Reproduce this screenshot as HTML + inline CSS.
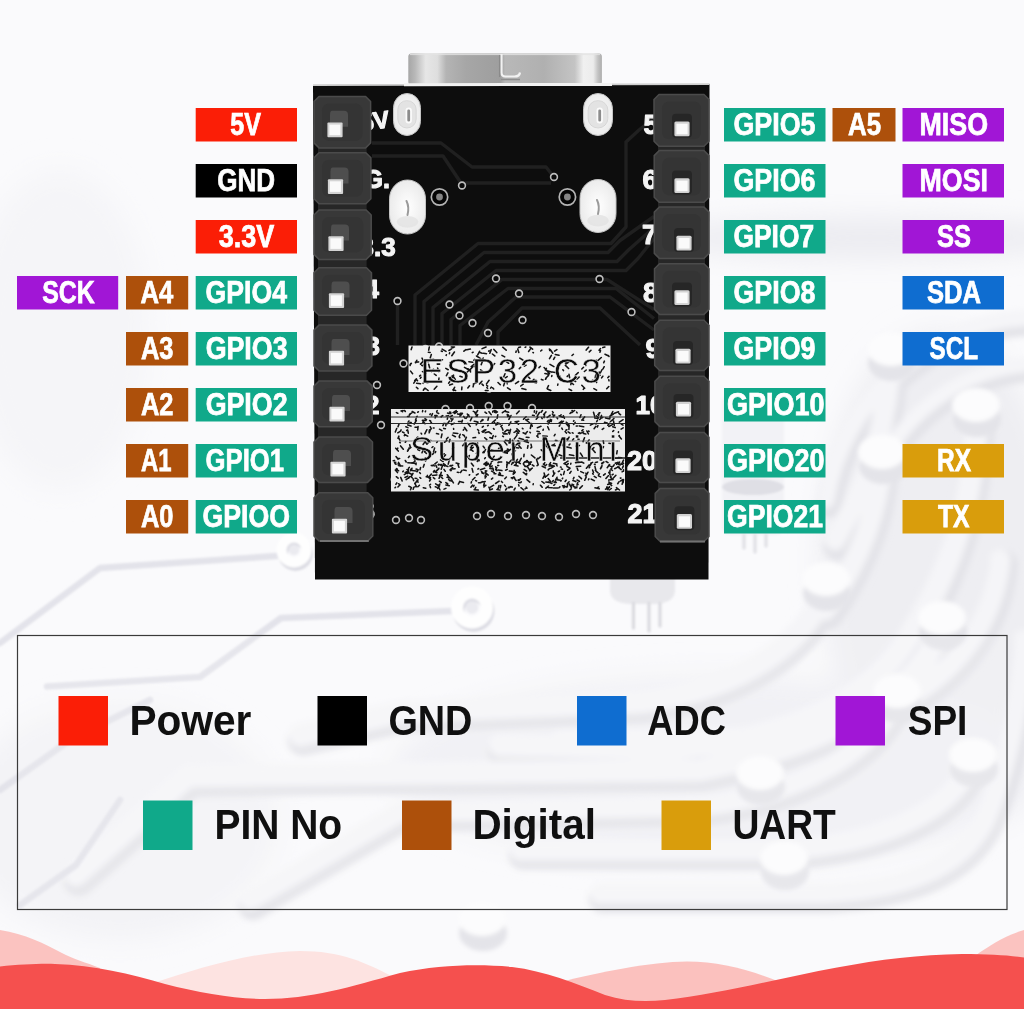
<!DOCTYPE html>
<html lang="en"><head><meta charset="utf-8"><title>ESP32-C3 Super Mini pinout</title>
<style>
html,body{margin:0;padding:0;background:#fafafc;}
body{width:1024px;height:1009px;overflow:hidden;font-family:"Liberation Sans",sans-serif;}
svg{display:block;}
text{font-family:"Liberation Sans",sans-serif;}
.lb{font-weight:700;font-size:31.2px;fill:#ffffff;stroke:#ffffff;stroke-width:0.75px;}
.lg{font-weight:700;font-size:41.6px;fill:#101010;}
.silk{font-weight:700;fill:#f4f4f4;stroke:#f4f4f4;stroke-width:1.1px;stroke-linejoin:round;}
.plate{font-weight:400;fill:#0c0c0c;stroke:#eeeeee;stroke-width:0.45px;}
</style></head><body>
<svg width="1024" height="1009" viewBox="0 0 1024 1009">
<defs>
<linearGradient id="bgv" x1="0" y1="0" x2="0" y2="1"><stop offset="0" stop-color="#fcfcfd"/><stop offset="0.5" stop-color="#f7f7f9"/><stop offset="1" stop-color="#f3f3f6"/></linearGradient>
<linearGradient id="usb" x1="0" y1="0" x2="1" y2="0"><stop offset="0" stop-color="#a6a6a6"/><stop offset="0.035" stop-color="#b8b8b8"/><stop offset="0.09" stop-color="#e6e6e6"/><stop offset="0.15" stop-color="#dedede"/><stop offset="0.195" stop-color="#b4b4b4"/><stop offset="0.30" stop-color="#a6a6a6"/><stop offset="0.475" stop-color="#9e9e9e"/><stop offset="0.50" stop-color="#b8b8b8"/><stop offset="0.70" stop-color="#b0b0b0"/><stop offset="0.86" stop-color="#c4c4c4"/><stop offset="0.905" stop-color="#f0f0f0"/><stop offset="0.955" stop-color="#ececec"/><stop offset="0.98" stop-color="#c2c2c2"/><stop offset="1" stop-color="#adadad"/></linearGradient>
<radialGradient id="pad" cx="0.5" cy="0.5" r="0.7"><stop offset="0" stop-color="#ffffff"/><stop offset="0.7" stop-color="#ececec"/><stop offset="1" stop-color="#cfcfcf"/></radialGradient>
<filter id="blur1" x="-10%" y="-10%" width="120%" height="120%"><feGaussianBlur stdDeviation="0.9"/></filter>
<filter id="blur2" x="-10%" y="-10%" width="120%" height="120%"><feGaussianBlur stdDeviation="2.0"/></filter>
<filter id="blur3" x="-10%" y="-10%" width="120%" height="120%"><feGaussianBlur stdDeviation="3.4"/></filter>
<filter id="blur12" x="-10%" y="-10%" width="120%" height="120%"><feGaussianBlur stdDeviation="14"/></filter>
</defs>
<rect width="1024" height="1009" fill="#fafafc"/>
<g filter="url(#blur12)">
<ellipse cx="870" cy="238" rx="210" ry="20" fill="#ebebf0"/>
<ellipse cx="940" cy="560" rx="120" ry="230" fill="#eeeef2"/>
<ellipse cx="720" cy="770" rx="330" ry="95" fill="#f0f0f4"/>
<ellipse cx="120" cy="820" rx="160" ry="120" fill="#f3f3f6"/>
<ellipse cx="60" cy="330" rx="90" ry="160" fill="#f5f5f8"/>
</g>
<g fill="none" stroke-linecap="round" stroke-linejoin="round" filter="url(#blur3)">
<path d="M891 349 C 889 420 870 480 835 540" stroke="#e3e3e8" stroke-width="30" transform="translate(3,5)"/>
<path d="M976 405 C 976 500 950 580 900 650 C 850 715 760 745 660 748 L 500 745" stroke="#e3e3e8" stroke-width="32" transform="translate(3,5)"/>
<path d="M882 452 C 880 510 860 560 825 610" stroke="#e3e3e8" stroke-width="30" transform="translate(3,5)"/>
<path d="M826 581 C 815 640 740 690 640 702 L 400 712 L 300 735" stroke="#e3e3e8" stroke-width="32" transform="translate(3,5)"/>
<path d="M942 618 C 930 690 830 745 700 770 L 520 772 L 188 776 L 76 875" stroke="#e3e3e8" stroke-width="32" transform="translate(3,5)"/>
<path d="M1000 560 C 990 660 900 730 760 738 L 560 740" stroke="#e3e3e8" stroke-width="30" transform="translate(3,5)"/>
<path d="M897 691 C 880 750 800 795 700 806 L 400 812 L 250 900" stroke="#e3e3e8" stroke-width="30" transform="translate(3,5)"/>
<path d="M973 755 C 960 810 880 845 780 850 L 520 850" stroke="#e3e3e8" stroke-width="30" transform="translate(3,5)"/>
<path d="M1024 640 C 1020 700 1010 760 985 820 C 960 870 900 890 820 893 L 600 893" stroke="#e3e3e8" stroke-width="30" transform="translate(3,5)"/>
<path d="M1024 318 C 930 322 842 400 826 500" stroke="#e3e3e8" stroke-width="26" transform="translate(3,5)"/>
<path d="M1024 365 C 950 372 880 430 866 510" stroke="#e3e3e8" stroke-width="24" transform="translate(3,5)"/>
<path d="M891 349 C 889 420 870 480 835 540" stroke="#f5f5f8" stroke-width="21"/>
<path d="M976 405 C 976 500 950 580 900 650 C 850 715 760 745 660 748 L 500 745" stroke="#f5f5f8" stroke-width="23"/>
<path d="M882 452 C 880 510 860 560 825 610" stroke="#f5f5f8" stroke-width="21"/>
<path d="M826 581 C 815 640 740 690 640 702 L 400 712 L 300 735" stroke="#f5f5f8" stroke-width="23"/>
<path d="M942 618 C 930 690 830 745 700 770 L 520 772 L 188 776 L 76 875" stroke="#f5f5f8" stroke-width="23"/>
<path d="M1000 560 C 990 660 900 730 760 738 L 560 740" stroke="#f5f5f8" stroke-width="21"/>
<path d="M897 691 C 880 750 800 795 700 806 L 400 812 L 250 900" stroke="#f5f5f8" stroke-width="21"/>
<path d="M973 755 C 960 810 880 845 780 850 L 520 850" stroke="#f5f5f8" stroke-width="21"/>
<path d="M1024 640 C 1020 700 1010 760 985 820 C 960 870 900 890 820 893 L 600 893" stroke="#f5f5f8" stroke-width="21"/>
<path d="M1024 318 C 930 322 842 400 826 500" stroke="#f5f5f8" stroke-width="17"/>
<path d="M1024 365 C 950 372 880 430 866 510" stroke="#f5f5f8" stroke-width="15"/>
</g>
<g filter="url(#blur2)">
<ellipse cx="892" cy="363" rx="24" ry="18" fill="#e4e4e9"/>
<ellipse cx="891" cy="349" rx="24" ry="17" fill="#fcfcfd"/>
<ellipse cx="977" cy="419" rx="24" ry="18" fill="#e4e4e9"/>
<ellipse cx="976" cy="405" rx="24" ry="17" fill="#fcfcfd"/>
<ellipse cx="883" cy="466" rx="24" ry="18" fill="#e4e4e9"/>
<ellipse cx="882" cy="452" rx="24" ry="17" fill="#fcfcfd"/>
<ellipse cx="827" cy="593" rx="24" ry="18" fill="#e4e4e9"/>
<ellipse cx="826" cy="579" rx="24" ry="17" fill="#fcfcfd"/>
<ellipse cx="943" cy="632" rx="24" ry="18" fill="#e4e4e9"/>
<ellipse cx="942" cy="618" rx="24" ry="17" fill="#fcfcfd"/>
<ellipse cx="898" cy="705" rx="24" ry="18" fill="#e4e4e9"/>
<ellipse cx="897" cy="691" rx="24" ry="17" fill="#fcfcfd"/>
<ellipse cx="761" cy="787" rx="24" ry="18" fill="#e4e4e9"/>
<ellipse cx="760" cy="773" rx="24" ry="17" fill="#fcfcfd"/>
<ellipse cx="974" cy="769" rx="24" ry="18" fill="#e4e4e9"/>
<ellipse cx="973" cy="755" rx="24" ry="17" fill="#fcfcfd"/>
<ellipse cx="785" cy="872" rx="24" ry="18" fill="#e4e4e9"/>
<ellipse cx="784" cy="858" rx="24" ry="17" fill="#fcfcfd"/>
<ellipse cx="483" cy="933" rx="24" ry="18" fill="#e4e4e9"/>
<ellipse cx="482" cy="919" rx="24" ry="17" fill="#fcfcfd"/>
</g>
<g fill="none" stroke-linecap="round" stroke-linejoin="round" filter="url(#blur1)">
<path d="M0 643 L100 568 L276 556" stroke="#e3e3ea" stroke-width="6.5"/>
<path d="M47 686.5 L200 677 L281 618 L452 611" stroke="#e3e3ea" stroke-width="6.5"/>
<path d="M0 790 L70 740 L150 700" stroke="#e3e3ea" stroke-width="6.5"/>
<path d="M20 905 L76 865 L120 800" stroke="#e3e3ea" stroke-width="6.5"/>
<circle cx="295.5" cy="553.5" r="12.5" stroke="#dddde4" stroke-width="10.0"/>
<circle cx="294" cy="550" r="12.5" stroke="#fefefe" stroke-width="10.0"/>
<circle cx="294" cy="550" r="5.2" fill="#ebebf0" stroke="none"/>
<circle cx="473.5" cy="611.0" r="15" stroke="#dddde4" stroke-width="12.0"/>
<circle cx="472" cy="607.5" r="15" stroke="#fefefe" stroke-width="12.0"/>
<circle cx="472" cy="607.5" r="6.3" fill="#ebebf0" stroke="none"/>
</g>
<g filter="url(#blur1)">
<path d="M610 578 H675 V590 Q675 603 655 604 H630 Q610 603 610 590 Z" fill="#e8e8ec"/>
<path d="M633.5 603 V628 M649 603 V631 M660 603 V626" stroke="#dadadf" stroke-width="3.2" stroke-linecap="round"/>
<rect x="722" y="395" width="62" height="140" rx="8" fill="#f0f0f4" opacity="0.8"/>
<ellipse cx="753" cy="487" rx="31" ry="8" fill="#dddde3" opacity="0.9"/>
<path d="M744 535 V548 M755 535 V552 M766 535 V546" stroke="#e0e0e5" stroke-width="3.2" stroke-linecap="round"/>
</g>
<rect x="408.3" y="53.3" width="193.6" height="32" rx="3.5" fill="url(#usb)"/>
<rect x="410" y="53.3" width="190" height="1.8" fill="#e4e4e4" opacity="0.8"/>
<path d="M501.5 54 V72.5 q0 4 4 4 h9 q5 0 5.5 -4" fill="none" stroke="#f2f2f2" stroke-width="2.2"/>
<path d="M499.6 55 V77" stroke="#8a8a8a" stroke-width="1.3"/>
<path d="M501 79.5 H520" stroke="#8e8e8e" stroke-width="1.5"/>
<path d="M313 85 L709.5 84 L708.5 579.5 L315 579.5 Z" fill="#0d0d0d"/>
<path d="M313 85.2 L709.5 84.2" stroke="#cfcfcf" stroke-width="1.8"/>
<path d="M404 84.8 L612 84.4" stroke="#f1f1f1" stroke-width="3"/>
<g fill="none" stroke="#202020" stroke-width="3.4" stroke-linejoin="round">
<path d="M372 143 H441 L472 167 H546 L554 177"/>
<path d="M372 156 H443 L461 183 H551"/>
<path d="M654 118 L639 130 L626 142 V227 L611 243.5 H478 L415 295 V345"/>
<path d="M654 216.5 L620.0 240.5 L608.0 252.5 H484 L424 301.5 V345"/>
<path d="M654 227.5 L629.0 249.5 L617.0 261.5 H490 L433 307.5 V345"/>
<path d="M654 238.5 L638.0 258.5 L626.0 270.5 H496 L442 313.5 V345"/>
<path d="M654 309.5 L607.0 279.5 H502 L451 319.5 V345"/>
<path d="M654 318.5 L616.0 288.5 H508 L460 325.5 V345"/>
<path d="M654 330 L610 297 H516 L488 322 L476 345"/>
<path d="M640 345 L600 308 H522 L498 332 V345"/>
<path d="M397.5 301 V345"/>
</g>
<g class="silk">
<text x="360" y="128.5" font-size="24" transform="rotate(-8 380 120)">5V</text>
<text x="363.5" y="187.5" font-size="25">G.</text>
<text x="359.5" y="255.5" font-size="26">3.3</text>
<text x="365" y="297.5" font-size="25">4</text>
<text x="366" y="355" font-size="25">3</text>
<text x="365.5" y="414" font-size="25">2</text>
<text x="363.5" y="518.5" font-size="20">5</text>
<text x="658.5" y="133.5" font-size="27" text-anchor="end">5</text>
<text x="657.5" y="188.5" font-size="27" text-anchor="end">6</text>
<text x="657" y="244" font-size="27" text-anchor="end">7</text>
<text x="658.5" y="302" font-size="28" text-anchor="end">8</text>
<text x="660.5" y="358" font-size="27" text-anchor="end">9</text>
<text x="664.5" y="414" font-size="26" text-anchor="end">10</text>
<text x="657" y="469.5" font-size="27" text-anchor="end">20</text>
<text x="657.5" y="522.5" font-size="27" text-anchor="end">21</text>
</g>
<rect x="393.5" y="93.5" width="27.0" height="42" rx="13.5" ry="14.175" fill="url(#pad)" stroke="#c4c4c4" stroke-width="1"/>
<rect x="397.82" y="100.64" width="18.360000000000003" height="27.3" rx="8.91" fill="#e3e3e3" stroke="#d2d2d2" stroke-width="0.8"/>
<rect x="406.4" y="108.5" width="4.6" height="14" rx="2.3" fill="#8c8c8c" stroke="#fbfbfb" stroke-width="1.8"/>
<rect x="583.5" y="93.5" width="29.0" height="42" rx="14.5" ry="15.225000000000001" fill="url(#pad)" stroke="#c4c4c4" stroke-width="1"/>
<rect x="588.14" y="100.64" width="19.720000000000002" height="27.3" rx="9.57" fill="#e3e3e3" stroke="#d2d2d2" stroke-width="0.8"/>
<rect x="597.4" y="108.5" width="4.6" height="14" rx="2.3" fill="#8c8c8c" stroke="#fbfbfb" stroke-width="1.8"/>
<rect x="389.5" y="180" width="36" height="54" rx="18" ry="18.900000000000002" fill="url(#pad)" stroke="#c4c4c4" stroke-width="1"/>
<ellipse cx="407.5" cy="221.85" rx="10.799999999999999" ry="5.94" fill="#e2e2e2" opacity="0.8"/>
<path d="M406.5 201 q3 6 1 14" stroke="#9a9a9a" stroke-width="2" fill="none" stroke-linecap="round"/>
<rect x="580" y="179.5" width="36" height="53.0" rx="18" ry="18.900000000000002" fill="url(#pad)" stroke="#c4c4c4" stroke-width="1"/>
<ellipse cx="598" cy="220.575" rx="10.799999999999999" ry="5.83" fill="#e2e2e2" opacity="0.8"/>
<path d="M597 200 q3 6 1 14" stroke="#9a9a9a" stroke-width="2" fill="none" stroke-linecap="round"/>
<circle cx="439.5" cy="197" r="8.2" fill="#050505" stroke="#b4b4b4" stroke-width="1.7"/>
<circle cx="439.5" cy="197" r="3.4" fill="#858585"/>
<circle cx="567.4" cy="197" r="8.2" fill="#050505" stroke="#b4b4b4" stroke-width="1.7"/>
<circle cx="567.4" cy="197" r="3.4" fill="#858585"/>
<circle cx="462" cy="185.5" r="3.4" fill="#0a0a0a" stroke="#bdbdbd" stroke-width="1.6"/>
<circle cx="554" cy="177" r="3.4" fill="#0a0a0a" stroke="#bdbdbd" stroke-width="1.6"/>
<circle cx="397.5" cy="301" r="3.4" fill="#0a0a0a" stroke="#bdbdbd" stroke-width="1.6"/>
<circle cx="496" cy="278.5" r="3.4" fill="#0a0a0a" stroke="#bdbdbd" stroke-width="1.6"/>
<circle cx="599.5" cy="279" r="3.4" fill="#0a0a0a" stroke="#bdbdbd" stroke-width="1.6"/>
<circle cx="519" cy="293.5" r="3.4" fill="#0a0a0a" stroke="#bdbdbd" stroke-width="1.6"/>
<circle cx="449.5" cy="304.5" r="3.4" fill="#0a0a0a" stroke="#bdbdbd" stroke-width="1.6"/>
<circle cx="459.5" cy="315.5" r="3.4" fill="#0a0a0a" stroke="#bdbdbd" stroke-width="1.6"/>
<circle cx="472.5" cy="323" r="3.4" fill="#0a0a0a" stroke="#bdbdbd" stroke-width="1.6"/>
<circle cx="522.5" cy="320" r="3.4" fill="#0a0a0a" stroke="#bdbdbd" stroke-width="1.6"/>
<circle cx="631.5" cy="312" r="3.4" fill="#0a0a0a" stroke="#bdbdbd" stroke-width="1.6"/>
<circle cx="488" cy="333" r="3.4" fill="#0a0a0a" stroke="#bdbdbd" stroke-width="1.6"/>
<circle cx="403.5" cy="363.5" r="3.4" fill="#0a0a0a" stroke="#bdbdbd" stroke-width="1.6"/>
<circle cx="377" cy="385" r="3.4" fill="#0a0a0a" stroke="#bdbdbd" stroke-width="1.6"/>
<circle cx="381" cy="425" r="3.4" fill="#0a0a0a" stroke="#bdbdbd" stroke-width="1.6"/>
<circle cx="425.5" cy="349" r="3.4" fill="#0a0a0a" stroke="#bdbdbd" stroke-width="1.6"/>
<circle cx="439" cy="346.5" r="3.4" fill="#0a0a0a" stroke="#bdbdbd" stroke-width="1.6"/>
<circle cx="417.5" cy="375" r="3.4" fill="#0a0a0a" stroke="#bdbdbd" stroke-width="1.6"/>
<circle cx="489" cy="388.5" r="3.4" fill="#0a0a0a" stroke="#bdbdbd" stroke-width="1.6"/>
<circle cx="445.5" cy="409" r="3.4" fill="#0a0a0a" stroke="#bdbdbd" stroke-width="1.6"/>
<circle cx="470" cy="408" r="3.4" fill="#0a0a0a" stroke="#bdbdbd" stroke-width="1.6"/>
<circle cx="488.7" cy="406" r="3.4" fill="#0a0a0a" stroke="#bdbdbd" stroke-width="1.6"/>
<circle cx="507.5" cy="406" r="3.4" fill="#0a0a0a" stroke="#bdbdbd" stroke-width="1.6"/>
<circle cx="532" cy="408" r="3.4" fill="#0a0a0a" stroke="#bdbdbd" stroke-width="1.6"/>
<circle cx="394.7" cy="479.5" r="3.4" fill="#0a0a0a" stroke="#bdbdbd" stroke-width="1.6"/>
<circle cx="448.6" cy="482.5" r="3.4" fill="#0a0a0a" stroke="#bdbdbd" stroke-width="1.6"/>
<circle cx="541" cy="473.6" r="3.4" fill="#0a0a0a" stroke="#bdbdbd" stroke-width="1.6"/>
<circle cx="396" cy="520" r="3.4" fill="#0a0a0a" stroke="#bdbdbd" stroke-width="1.6"/>
<circle cx="409" cy="518" r="3.4" fill="#0a0a0a" stroke="#bdbdbd" stroke-width="1.6"/>
<circle cx="421" cy="520" r="3.4" fill="#0a0a0a" stroke="#bdbdbd" stroke-width="1.6"/>
<circle cx="477" cy="516" r="3.4" fill="#0a0a0a" stroke="#bdbdbd" stroke-width="1.6"/>
<circle cx="491" cy="514" r="3.4" fill="#0a0a0a" stroke="#bdbdbd" stroke-width="1.6"/>
<circle cx="508" cy="516" r="3.4" fill="#0a0a0a" stroke="#bdbdbd" stroke-width="1.6"/>
<circle cx="526" cy="515" r="3.4" fill="#0a0a0a" stroke="#bdbdbd" stroke-width="1.6"/>
<circle cx="542" cy="516" r="3.4" fill="#0a0a0a" stroke="#bdbdbd" stroke-width="1.6"/>
<circle cx="559" cy="517" r="3.4" fill="#0a0a0a" stroke="#bdbdbd" stroke-width="1.6"/>
<circle cx="576" cy="514" r="3.4" fill="#0a0a0a" stroke="#bdbdbd" stroke-width="1.6"/>
<circle cx="593" cy="515" r="3.4" fill="#0a0a0a" stroke="#bdbdbd" stroke-width="1.6"/>
<rect x="408.5" y="345.5" width="202" height="46.5" fill="#f1f1f1"/>
<rect x="391" y="409" width="234" height="82.5" fill="#ececec"/>
<path d="M534.0 379.3L531.4 382.0M515.5 383.6L518.6 381.5M589.3 351.9L591.0 350.2M430.3 357.8L431.3 354.5M592.4 380.3L593.5 380.7M532.9 352.5L533.4 352.7M452.9 389.7L455.6 390.5M449.6 385.1L452.5 384.1M547.4 389.0L550.8 390.5M492.6 387.7L493.7 388.9M530.0 347.1L532.6 349.2M480.7 360.3L483.3 358.1M550.2 349.5L552.8 353.2M481.2 364.6L482.2 362.0M525.1 347.4L525.8 347.0M599.9 352.2L600.5 350.7M480.6 369.8L483.5 372.1M565.4 363.0L566.7 361.8M428.1 361.8L430.2 359.6M593.9 370.7L595.1 372.1M569.0 374.3L569.6 377.7M442.1 349.1L446.0 351.4M416.3 379.2L417.5 380.8M493.9 349.4L496.8 352.6M476.5 356.0L480.3 358.4M535.4 381.3L535.8 380.3M421.7 365.3L422.7 365.8M604.2 366.7L603.0 369.0M464.5 367.4L468.2 369.5M606.7 388.8L608.8 386.5M445.8 368.4L448.2 369.7M481.9 381.2L479.5 384.0M416.8 360.3L415.6 362.8M506.7 380.5L507.3 383.8M477.7 354.8L479.6 351.3M459.9 376.2L462.2 377.0M568.7 362.1L566.1 363.9M491.3 387.1L490.6 388.2M482.5 361.5L483.2 360.6M482.0 384.1L483.3 385.4M555.3 354.5L559.0 355.3M596.3 360.2L595.1 362.7M608.2 355.5L609.0 356.4M453.6 376.8L455.3 379.4M605.0 354.2L608.7 356.0M446.1 355.4L446.4 354.7M541.8 350.1L540.7 351.0M410.1 364.6L411.3 363.4M547.1 370.8L551.4 372.1M428.9 370.7L430.8 370.8M480.0 352.6L482.1 353.3M483.5 353.2L486.5 353.7M449.6 352.8L449.4 353.7M431.5 371.6L433.5 369.3M584.4 371.5L586.2 370.0M505.4 377.8L507.2 376.6M461.7 389.7L461.9 387.1M598.1 360.4L601.3 357.5M434.3 374.0L436.2 375.4M437.2 364.1L439.7 364.1M596.1 381.0L596.6 382.5M553.6 359.4L554.8 357.2M581.8 385.3L584.7 388.3M469.8 370.2L470.6 372.0M415.3 362.2L418.6 361.9M410.6 371.1L412.6 373.7M518.6 347.6L520.5 347.0M547.1 388.5L548.5 385.6M545.8 378.3L548.6 375.2M423.1 383.4L424.9 380.5M539.0 367.6L540.4 366.3M519.3 368.6L520.7 367.3M517.7 349.1L518.8 352.5M567.6 375.9L567.2 376.5M423.7 364.6L425.3 366.6M453.6 375.1L450.1 377.7M607.8 377.7L609.0 376.4M492.4 354.0L494.8 355.9M541.4 379.4L543.0 379.9M557.7 385.2L557.9 384.1M546.4 368.3L545.4 370.0M421.1 377.3L420.3 378.2M467.8 388.0L469.5 385.8M519.8 358.1L522.8 360.0M570.8 384.6L571.3 382.2M551.9 375.5L551.7 376.4M581.8 369.0L583.5 367.3M505.6 361.1L508.7 363.3M486.5 383.9L489.1 380.3M454.4 352.0L451.8 355.7M452.1 377.5L453.4 375.9M595.2 377.7L595.9 374.0M575.4 375.2L578.2 372.6M482.1 348.6L486.1 347.0M488.7 351.2L489.1 350.6M507.5 387.8L510.2 389.6M503.6 385.7L504.6 382.8M501.9 355.3L504.7 356.9M486.7 385.3L487.7 386.1M572.9 379.6L575.6 381.5M416.4 387.2L417.9 388.6M544.1 367.5L547.1 370.7M474.5 366.7L475.3 365.4M552.2 372.0L555.4 372.4M603.7 362.8L604.4 361.1M423.3 390.2L424.7 388.2M451.5 348.9L449.0 350.5M411.2 349.6L412.0 347.0M416.6 383.3L420.6 383.7M428.7 350.1L429.3 347.0M503.8 376.7L505.0 373.8M422.0 358.1L423.0 360.1M584.1 388.3L583.3 389.4M490.1 370.1L490.4 371.0M427.3 389.9L428.1 390.5M452.7 347.8L453.8 347.0M562.9 369.7L563.5 370.6M471.2 366.5L474.3 364.1M437.6 368.0L438.8 371.6M472.3 352.6L473.1 352.2M569.0 389.1L571.6 390.5M549.4 349.1L549.8 350.4M586.2 350.1L588.5 347.2M520.7 386.0L523.2 384.1M498.0 382.5L500.3 384.8M549.5 358.6L551.4 355.3M473.9 360.3L474.6 359.4M466.8 349.8L470.4 349.1M434.2 389.2L436.9 386.3M598.9 373.6L599.2 372.1M450.0 362.6L451.2 363.1M554.6 351.1L556.9 349.6M438.7 380.3L439.0 378.0M473.1 386.8L473.6 384.4M419.6 376.1L420.6 375.2M528.6 351.5L530.8 348.4M451.3 347.0L454.5 347.0M585.5 364.1L585.9 365.5M470.3 369.4L472.9 366.8M571.0 382.4L573.5 384.5M489.8 353.2L491.2 349.6M428.7 364.3L429.6 367.8M449.7 381.7L448.6 383.2M516.2 351.0L515.9 352.3M511.8 372.5L512.0 371.2M544.9 373.5L547.5 374.0M550.0 364.4L553.9 366.7M547.9 376.2L548.8 373.6M528.1 376.6L529.9 378.5M415.4 380.7L413.8 383.2M602.8 347.6L604.9 347.0M559.9 376.1L561.7 380.2M576.8 379.1L579.1 377.1M428.3 352.3L430.2 352.5M602.8 376.2L601.6 377.9M451.2 376.5L452.7 377.7M547.1 371.1L549.5 373.6M429.9 359.8L433.7 359.3M599.1 350.3L600.5 348.5M422.5 371.6L426.1 373.1M493.0 365.5L494.7 363.5M465.9 373.3L469.1 370.2M439.7 359.9L442.5 359.7M447.9 372.9L446.4 375.7M425.2 388.4L426.1 389.0M473.4 384.0L476.3 382.8M532.4 381.7L536.2 383.1M441.2 351.0L442.3 351.5M524.4 366.2L526.1 365.2M593.9 388.6L596.6 390.1M572.0 355.5L573.4 354.2M545.4 379.3L546.1 378.7M502.7 347.2L506.2 350.2M410.7 363.6L410.1 365.5M561.2 378.4L562.4 379.7M608.8 379.7L609.0 380.8M467.8 368.7L470.5 370.8M468.9 361.7L472.8 362.2M453.8 389.9L453.4 390.5M463.9 351.2L465.9 349.6M486.9 387.6L487.6 388.3M426.6 382.6L427.8 382.8M521.9 388.6L525.9 389.6M453.5 389.4L454.6 387.3M600.3 373.0L602.1 369.5M420.5 364.1L423.1 361.4M597.0 375.8L600.1 375.2M414.7 380.5L416.4 378.9M485.3 390.5L488.1 390.5M565.4 365.4L568.6 368.5" stroke="#141414" stroke-width="1.55" stroke-linecap="round" fill="none"/>
<path d="M467.3 414.0L469.4 416.5M414.2 424.2L416.3 420.5M492.7 412.1L492.8 411.2M523.1 432.8L525.8 434.0M525.8 419.8L529.4 422.5M423.3 420.3L426.0 420.5M581.0 414.7L579.9 417.5M415.0 427.2L417.9 427.1M549.7 420.5L551.3 421.5M476.0 416.3L476.7 415.2M461.9 422.1L462.4 420.3M618.9 413.3L620.6 414.8M505.5 411.4L508.6 412.3M594.7 417.9L598.1 418.5M576.6 412.1L577.1 412.9M545.9 411.9L543.7 414.5M549.9 421.0L548.2 424.0M609.8 418.9L610.1 415.8M570.0 413.5L571.1 412.4M507.2 414.4L507.8 416.5M581.8 430.8L583.1 429.7M550.2 419.4L551.6 419.9M446.1 416.0L448.6 415.8M457.6 413.9L460.3 414.6M612.7 426.7L615.2 427.6M563.4 421.2L560.3 423.9M483.1 419.9L482.6 420.7M436.5 433.6L438.6 434.0M404.6 410.5L405.3 411.5M534.3 412.2L534.5 410.7M450.8 418.7L452.7 419.3M505.2 433.5L507.2 434.0M416.1 418.6L415.5 420.1M397.8 432.8L400.2 431.4M603.7 428.3L602.2 429.4M553.3 416.6L554.7 415.1M444.0 423.2L442.9 425.6M580.0 433.6L583.6 431.9M563.4 415.8L564.4 418.3M621.1 429.1L623.2 427.8M613.5 421.0L614.3 425.3M476.7 415.7L477.7 414.6M504.0 433.7L506.5 434.0M543.3 429.3L543.0 430.2M482.3 427.2L483.3 426.3M539.4 412.5L537.1 416.3M485.2 432.7L488.6 431.7M398.9 424.4L398.0 426.7M583.4 433.5L585.8 434.0M519.2 411.0L516.6 413.8M514.1 432.4L516.3 431.4M441.3 416.4L442.8 415.6M467.8 423.3L470.2 426.4M474.2 421.3L477.1 421.7M604.5 422.3L607.2 422.9M594.1 428.7L595.9 426.3M501.9 427.5L503.0 430.1M515.1 421.8L518.8 421.3M436.7 411.5L437.2 410.6M568.1 431.9L570.0 433.2M532.5 415.2L534.2 415.6M502.9 432.6L503.7 434.0M598.7 415.3L599.1 412.9M494.6 412.2L496.1 412.8M462.4 413.4L459.9 416.1M477.1 416.4L477.4 415.3M612.5 419.9L610.5 421.5M429.8 420.6L431.4 422.8M474.9 412.7L475.9 414.4M494.2 410.9L496.2 411.0M614.4 413.2L618.5 411.8M416.7 416.7L417.2 416.2M422.4 420.4L425.0 423.8M516.5 422.6L518.5 424.2M405.8 426.7L407.9 427.6M396.4 412.6L397.8 413.3M407.9 430.8L408.3 433.2M489.0 432.0L491.5 433.8M447.6 413.1L448.8 413.5M607.8 425.3L609.6 423.2M508.0 414.7L509.1 416.3M401.0 410.9L403.1 410.5M449.3 421.0L447.5 423.7M506.8 430.1L509.0 430.2M442.2 415.9L441.2 416.9M424.8 433.8L426.9 429.7M537.0 431.2L539.2 431.8M586.8 431.0L588.4 433.9M552.5 411.6L553.3 412.7M453.3 433.1L457.8 433.4M400.5 431.2L401.1 429.9M480.7 421.7L482.3 419.6M571.8 412.6L574.6 410.5M402.1 411.0L403.1 410.5M613.7 430.6L612.8 431.4M530.3 428.5L531.0 425.0M559.8 425.6L559.2 426.1M537.4 427.7L541.0 426.3M566.4 423.9L568.9 426.8M527.4 431.5L525.2 433.9M412.2 411.5L414.9 413.0M496.8 411.7L497.4 411.9M505.5 410.6L502.4 412.7M599.9 412.7L597.9 414.5M450.8 412.2L449.5 413.4M445.8 425.8L446.1 423.4M602.8 417.3L602.3 417.8M410.4 414.0L409.3 415.1M536.0 413.6L536.7 411.2M547.7 426.8L549.0 429.8M458.5 421.4L462.1 421.3M618.4 432.5L618.5 431.8M509.5 433.9L510.6 429.4M610.9 415.5L613.5 414.0M453.0 418.9L451.2 421.4M597.4 427.0L597.9 425.6M429.2 432.8L430.3 429.7M425.0 418.6L426.5 419.6M565.9 430.2L566.9 429.7M600.8 417.3L601.5 415.4M593.5 412.3L594.7 416.4M457.3 411.7L454.6 413.5M450.1 416.7L452.4 415.5M573.9 420.6L573.5 421.2M594.8 423.5L596.2 423.9M561.7 421.1L558.8 423.3M504.7 431.9L506.8 430.1M471.9 417.5L470.4 420.7M544.0 417.6L544.5 414.8M541.1 412.3L542.4 410.5M497.1 418.3L497.8 414.7M436.9 412.6L438.7 413.5M477.6 429.5L478.6 430.5M487.9 420.2L488.6 417.6M566.2 422.2L568.5 424.1M508.8 425.3L510.9 421.8M599.7 419.5L602.0 417.4M588.5 431.0L589.1 431.4M568.9 429.4L569.2 424.9M482.9 432.3L485.9 429.7M449.9 413.1L450.9 413.7M417.7 429.9L418.1 426.5M572.0 410.5L572.9 411.1M541.6 417.6L542.2 418.6M493.5 428.5L494.1 429.3M527.1 419.6L528.6 419.3M516.7 433.9L517.4 434.0M596.7 421.7L597.4 420.3M487.6 425.8L488.3 425.2M548.3 420.4L547.4 421.7M478.0 422.1L476.2 424.9M550.2 415.2L547.2 417.5M408.1 422.1L408.9 421.0M443.7 428.4L445.4 428.7M435.8 415.7L435.2 417.9M529.9 432.2L530.4 432.8M425.3 411.7L425.6 411.0M557.0 417.9L557.6 418.7M468.6 414.9L466.1 418.4M464.5 427.5L466.8 430.8M417.7 412.3L418.4 411.7M421.1 433.2L421.6 434.0M463.8 429.4L463.3 430.2M478.6 432.1L479.1 433.4M502.1 425.3L500.9 426.4M401.9 411.3L402.7 411.7M565.1 431.6L566.4 433.1M612.8 411.5L611.2 414.7M456.2 410.6L453.1 412.6M407.6 429.9L406.7 430.5M612.9 419.6L613.9 418.4M423.2 422.2L422.9 422.7M552.4 414.1L553.3 415.3M573.6 424.5L575.2 422.4M449.6 412.0L450.3 412.2M429.6 420.5L430.6 420.9M411.9 412.8L409.7 414.2M432.5 413.6L431.5 415.9M516.9 428.7L519.4 431.4M523.5 419.3L526.1 416.8M435.4 416.0L437.1 415.9M407.5 416.4L409.1 416.4M579.3 425.9L583.7 426.8M596.4 415.9L598.4 417.3M460.3 413.3L461.7 413.2M409.9 422.5L411.2 422.6M572.2 432.7L573.1 433.1M473.3 411.4L475.1 412.1M451.4 424.6L454.3 423.2M581.7 420.1L583.7 420.2M439.5 429.2L441.9 430.6M576.3 426.1L577.5 426.0M430.3 426.8L431.3 428.9M489.0 411.7L491.2 414.6M396.7 428.5L395.3 432.0M560.7 415.3L561.1 414.9M582.0 420.0L584.6 416.9M422.5 411.7L422.7 410.6M536.2 419.2L538.0 417.3M429.9 414.5L430.3 413.8M578.4 433.2L579.7 432.6M402.5 432.0L404.1 432.9M482.1 431.7L484.7 430.0M590.4 425.1L593.1 423.8M434.8 415.6L437.0 415.5M475.5 414.0L477.6 410.5M522.4 428.3L523.0 428.8M531.0 423.4L532.3 426.2M463.7 416.4L464.9 418.1M493.8 411.0L495.1 410.5M495.7 425.0L499.2 423.3M485.0 412.1L486.6 413.3M494.6 422.5L494.3 423.2M605.5 417.9L608.9 418.7M508.9 419.4L511.0 415.5M407.8 424.9L411.0 426.1M619.3 422.1L623.1 419.7M559.1 415.7L562.7 417.2M429.2 431.6L429.5 429.9M508.5 432.1L509.2 433.4M447.3 419.2L447.6 417.9M608.8 426.5L612.5 424.6M453.6 428.6L453.7 429.3M497.2 422.8L500.2 424.1M516.2 430.6L518.7 433.2M621.3 424.1L623.0 425.1M433.3 428.0L434.1 428.0M540.2 433.6L537.8 434.0M561.8 428.1L562.5 429.4M492.3 422.5L495.5 419.8" stroke="#141414" stroke-width="1.55" stroke-linecap="round" fill="none"/>
<path d="M444.9 464.8L444.6 465.9M424.1 460.0L425.6 457.8M498.6 448.5L501.0 447.5M485.5 449.5L484.0 452.8M486.7 462.9L488.2 464.3M414.9 460.1L415.3 457.9M405.9 441.5L405.3 442.3M440.5 459.9L443.1 461.5M505.4 440.2L509.7 440.9M527.5 448.2L528.0 445.5M569.1 437.1L567.4 440.0M541.2 449.8L543.6 451.9M514.6 450.3L515.4 450.8M518.4 445.0L521.1 448.3M454.1 447.5L452.4 448.8M433.0 446.7L432.0 447.5M398.4 465.1L399.6 465.4M569.1 444.9L570.0 444.0M424.6 452.0L426.4 453.4M459.2 437.0L459.8 437.7M514.3 438.9L516.9 435.4M618.9 436.0L619.3 435.5M544.5 437.9L544.9 439.6M393.2 460.7L394.6 460.5M615.5 458.3L620.0 458.0M470.5 447.8L471.4 447.2M507.4 449.1L508.5 449.5M559.0 454.7L562.3 456.0M557.8 449.1L559.0 450.9M404.3 435.6L405.2 435.0M556.1 453.6L556.3 454.2M514.4 465.3L518.0 466.0M555.4 440.4L556.9 440.6M512.6 440.3L513.0 442.0M564.2 463.7L568.0 461.1M410.9 447.4L408.1 449.6M511.8 454.0L513.7 458.0M417.7 449.5L419.6 450.5M464.6 443.3L462.7 445.7M552.0 445.4L555.3 445.7M491.3 449.7L493.7 450.8M408.4 457.5L409.4 456.2M536.8 460.4L538.2 464.7M509.0 442.9L510.1 438.9M449.3 441.9L450.0 439.4M580.4 453.1L582.5 456.4M416.9 437.6L417.8 437.1M621.9 463.5L623.5 460.1M436.7 442.5L437.4 441.8M601.7 463.6L602.6 463.7M619.0 436.1L621.4 439.0M543.5 445.7L546.9 443.8M531.0 444.2L531.4 446.0M407.8 462.8L412.0 463.1M429.4 442.2L430.7 440.4M407.5 451.1L408.2 450.4M438.5 464.3L438.2 465.0M431.9 454.5L433.5 453.6M503.1 452.0L507.2 450.5M423.1 444.5L424.4 442.6M494.2 456.2L492.7 458.0M488.3 464.0L485.9 465.6M552.4 465.5L553.3 466.0M572.6 440.0L573.7 438.8M586.3 442.9L589.4 443.6M608.9 443.3L610.4 443.4M423.6 449.6L425.2 451.6M400.6 445.9L403.3 449.3M398.9 465.8L402.7 466.0M435.2 452.6L435.7 451.6M526.2 462.1L528.2 461.7M531.4 455.0L534.9 457.9M466.4 437.3L464.8 440.9M476.9 445.1L477.6 443.1M537.7 435.2L536.9 436.1M542.8 436.0L547.2 436.3M477.1 452.0L476.4 453.6M397.8 448.1L397.0 449.7M586.9 443.3L589.1 439.9M413.1 462.7L415.0 461.3M562.6 445.6L563.7 442.8M524.8 440.5L527.5 440.3M426.2 460.3L425.5 461.0M442.8 454.4L444.3 453.8M395.7 448.2L398.3 451.1M618.2 457.6L621.7 457.7M464.2 435.4L464.7 436.8M488.2 463.2L488.1 463.7M510.5 449.4L507.0 452.3M489.9 437.6L492.4 438.4M556.4 464.4L557.1 466.0M493.3 435.6L492.4 437.7M398.9 436.1L398.0 438.4M405.3 460.5L406.2 462.0M531.8 447.0L530.8 448.0M441.2 437.6L442.0 434.0M583.0 441.6L584.5 437.7M509.4 462.3L511.7 459.9M616.7 453.8L617.2 450.7M512.3 444.8L516.7 444.7M443.5 457.1L445.5 454.9M422.2 458.8L422.3 459.7M425.1 441.6L426.8 444.0M484.7 458.6L485.3 457.7M606.1 461.5L608.0 462.7M519.1 462.3L521.2 458.3M396.0 456.5L398.1 459.2M504.3 452.6L507.3 453.3M495.3 436.6L495.8 436.2M409.7 444.7L410.2 446.8M532.3 464.9L533.9 466.0M616.6 464.4L617.9 462.2M449.4 459.8L448.2 464.1M569.4 454.8L573.7 455.6M577.9 439.1L579.0 439.3M553.5 463.3L556.9 464.1M484.7 437.7L486.8 439.6M575.5 462.7L577.5 462.4M484.9 464.6L485.6 464.0M557.5 456.0L555.5 457.3M502.7 436.1L503.4 436.6M483.7 451.5L482.9 452.6M523.8 456.6L524.1 454.3M473.0 437.8L475.6 437.4M414.3 457.3L415.9 457.8M593.9 447.6L592.1 449.1M398.9 438.0L399.9 440.2M603.1 447.6L603.5 446.6M548.7 447.4L549.5 448.1M446.9 440.4L444.5 442.3M603.2 440.8L603.7 443.4M476.8 459.6L479.2 460.7M488.8 457.2L489.6 456.4M529.2 462.9L530.5 462.0M506.7 462.0L509.1 463.4M459.3 436.4L460.2 434.2M504.3 441.5L506.9 444.9M526.2 437.3L529.0 437.5M555.1 434.4L554.2 435.8M542.8 439.6L543.4 439.1M404.6 434.5L407.7 436.1M450.2 465.5L451.5 466.0M545.6 445.5L544.8 446.0M510.1 443.0L510.4 439.9M397.8 458.4L399.7 458.5M618.3 463.9L622.4 464.3M514.4 461.5L513.2 462.9M462.7 434.7L464.1 435.6M536.5 459.7L537.7 458.3M518.0 440.6L518.8 441.4M568.4 438.2L566.9 439.1M452.7 465.2L449.9 466.0M423.8 448.6L422.0 452.8M513.2 455.6L514.3 459.2M515.3 464.7L517.5 466.0M471.6 450.2L473.0 451.2M552.8 465.4L549.2 466.0M526.8 440.4L527.4 440.6M537.1 435.6L538.1 437.3M538.3 458.8L540.4 456.9M566.9 447.0L571.1 448.1M592.9 449.7L595.2 452.5M514.9 447.6L518.8 448.0M546.6 464.5L545.1 466.0M446.5 439.1L448.0 437.4M470.3 450.0L473.3 447.2M516.4 461.0L517.4 459.4M590.8 463.2L592.6 462.4M429.5 441.4L426.9 444.2M524.3 441.3L528.4 442.6M452.5 435.1L455.4 436.7M415.4 456.9L414.5 459.5M526.6 460.6L529.1 462.7M472.6 445.2L471.3 446.2M524.6 462.1L527.4 460.6M394.5 462.3L396.0 464.3M545.9 445.5L548.1 448.0M519.2 438.3L523.5 439.4M468.7 457.6L469.3 455.5M463.7 444.4L465.4 444.7M491.3 462.0L493.8 460.0M576.2 460.8L578.6 461.5M434.6 448.1L433.5 452.0M399.7 442.3L400.3 442.8M477.3 461.4L478.9 459.5M408.9 448.1L409.6 448.5M520.1 442.4L519.4 444.5M554.5 444.0L552.6 445.4M576.1 446.1L579.4 445.6M483.2 446.2L484.5 448.0" stroke="#141414" stroke-width="1.55" stroke-linecap="round" fill="none"/>
<path d="M499.5 472.5L499.2 473.6M508.6 487.2L509.4 487.6M554.2 482.4L555.2 481.5M490.1 466.7L490.7 466.2M605.9 478.5L608.3 475.7M597.5 487.7L598.7 487.0M489.9 464.5L491.1 463.3M471.4 463.2L473.5 465.9M405.2 472.6L407.5 473.6M562.6 485.8L566.8 487.1M526.2 487.1L527.0 488.2M423.3 487.7L425.8 488.2M605.2 473.8L603.6 475.2M554.4 466.1L550.7 468.4M405.0 477.5L407.7 476.1M562.7 478.1L562.3 478.7M601.8 466.5L600.5 468.8M548.2 478.5L550.5 481.4M417.9 486.7L419.4 485.2M620.3 478.1L621.0 478.1M492.7 468.0L493.4 470.2M463.5 470.0L466.1 470.6M572.8 484.6L570.9 486.3M523.3 463.9L525.1 466.5M485.1 472.4L488.2 475.1M459.6 481.4L463.5 482.4M617.8 466.8L621.2 469.6M395.2 463.7L395.7 462.3M395.9 484.4L396.8 482.9M424.2 464.4L423.3 467.1M489.5 466.0L491.0 463.6M577.9 480.6L579.4 481.4M506.7 464.8L507.5 464.7M576.9 485.0L578.1 484.5M439.4 475.3L442.3 475.6M432.5 475.5L436.8 474.9M542.9 478.3L544.3 475.7M513.4 477.0L516.1 480.4M525.1 488.8L525.8 488.3M416.3 481.6L418.0 479.9M560.6 481.0L561.2 480.7M445.9 485.0L449.3 485.7M448.7 479.4L449.3 480.1M486.4 463.9L487.7 464.5M412.0 462.8L415.0 463.5M398.5 483.7L400.1 484.8M612.9 478.5L615.9 475.2M417.0 471.8L417.9 470.5M443.6 465.1L442.7 465.7M478.5 482.7L481.0 482.7M594.5 464.3L595.1 464.5M396.1 469.1L398.6 470.8M488.9 487.2L490.0 489.4M443.5 463.6L444.9 464.6M435.6 471.9L438.9 468.8M595.0 487.8L599.3 488.8M494.0 473.7L495.9 473.8M585.9 473.2L586.8 474.2M500.3 487.9L500.8 485.5M485.4 471.1L486.7 470.9M441.3 472.2L440.0 476.2M617.7 488.9L615.5 490.0M441.3 477.2L442.7 478.5M489.9 468.4L493.4 469.1M499.5 462.1L501.7 462.0M395.0 487.8L395.5 487.2M552.7 476.3L554.8 473.1M483.9 486.9L485.9 485.2M475.1 488.5L475.8 487.3M577.2 483.8L577.8 482.6M550.6 462.6L549.2 464.7M618.4 464.6L620.2 464.9M549.5 468.5L548.2 469.9M564.3 463.4L565.7 464.4M435.6 483.8L438.3 485.5M471.2 482.9L471.5 481.8M439.4 481.2L441.2 482.5M608.8 482.0L611.0 483.3M577.0 486.8L575.0 488.1M520.9 487.7L523.7 490.0M452.6 468.9L455.1 468.8M515.2 488.1L514.1 490.0M623.0 462.8L623.5 463.7M438.8 485.3L439.9 484.0M483.9 464.1L486.8 462.0M615.3 463.2L616.5 462.7M556.7 479.8L560.5 480.2M567.3 486.8L567.6 484.2M623.3 465.9L622.5 468.0M588.5 479.8L588.9 478.9M451.1 479.2L453.4 482.9M623.1 482.7L623.5 479.6M589.2 467.8L589.6 467.2M451.3 470.3L450.9 470.7M608.8 472.4L610.3 475.1M429.6 481.0L430.2 480.1M441.2 469.2L442.6 465.4M521.3 481.8L520.8 482.5M491.0 466.9L492.2 465.9M588.0 472.2L586.4 475.0M511.6 487.0L512.3 487.1M498.1 470.1L501.9 470.6M568.2 463.6L566.7 465.1M444.0 469.3L445.3 471.3M578.9 476.2L581.5 478.6M577.0 480.0L579.1 481.0M410.7 469.2L411.9 470.0M618.9 466.7L619.2 467.4M512.3 478.6L512.7 478.1M480.4 469.7L484.7 468.3M409.6 476.7L408.6 478.2M434.5 470.5L433.5 472.0M566.2 480.0L565.1 481.5M591.3 463.6L589.8 465.9M413.0 473.4L411.2 476.7M576.3 466.6L580.7 466.2M541.9 481.5L544.1 483.2M395.3 470.0L397.5 472.6M524.1 469.4L526.5 471.0M594.2 476.3L596.2 477.6M623.3 471.1L622.1 471.8M553.2 470.9L553.8 473.4M458.0 464.6L458.9 467.3M533.1 484.6L533.3 483.8M460.5 472.5L462.0 470.4M551.0 465.3L551.6 466.0M592.6 470.0L593.5 472.4M495.7 466.8L496.7 470.6M414.8 483.3L416.5 486.7M452.6 467.6L450.1 469.9M506.4 477.0L504.8 478.7M500.3 473.3L500.4 474.2M560.5 467.1L561.2 467.2M497.7 465.4L498.7 465.5M518.6 484.8L519.0 485.9M447.1 477.3L450.1 478.1M476.4 475.0L478.2 473.9M518.2 480.3L518.3 479.7M527.1 466.4L527.6 465.8M429.6 485.0L430.5 484.3M578.5 462.5L581.8 462.0M602.0 465.6L600.5 468.7M543.4 464.1L544.3 464.9M427.3 475.4L427.7 477.0M415.1 478.2L416.8 478.5M573.4 486.5L576.8 487.7M474.1 485.4L473.4 486.6M396.7 468.6L397.3 469.3M556.3 482.3L555.8 482.8M564.1 485.5L563.3 487.1M409.1 477.4L406.1 479.6M439.8 464.6L441.0 465.4M545.9 482.1L549.2 482.4M574.0 477.4L573.3 478.9M406.0 472.2L406.8 471.8M553.6 488.1L557.9 488.0M398.4 463.5L398.1 464.0M409.3 467.4L408.5 468.3M498.5 474.9L503.0 475.7M506.7 467.5L507.2 462.9M525.1 466.0L526.2 466.6M564.4 471.4L563.6 474.4M407.6 472.3L411.6 474.3M420.0 469.7L420.6 467.5M540.5 485.2L542.2 487.3M438.4 486.6L440.0 490.0M529.0 463.9L531.4 462.0M557.2 478.9L557.7 479.4M560.8 474.4L561.4 475.0M498.0 462.7L498.5 462.0M491.6 471.1L494.3 472.7M410.8 476.5L412.2 477.8M592.7 473.6L593.2 474.2M475.0 477.5L472.4 480.0M609.8 473.7L610.0 470.4M435.9 465.4L436.8 467.4M530.1 463.8L528.5 465.4M606.5 488.8L607.0 486.8M523.3 472.3L526.6 474.8M529.6 470.7L531.6 468.6M509.4 471.1L512.3 471.3M570.7 464.1L570.9 463.3M438.6 464.8L441.7 464.6M472.1 468.6L473.0 472.1M431.3 465.4L432.3 465.7M611.9 467.9L610.9 469.0M544.1 473.0L545.3 477.3M481.2 482.3L482.8 481.6M577.2 468.3L577.9 470.3M403.4 471.0L402.8 471.7M614.2 464.8L613.1 466.3M399.6 485.2L397.9 487.0M497.9 489.3L499.0 485.5M511.3 477.8L514.5 477.3M526.9 479.6L529.8 482.1M417.2 481.8L418.1 482.1M608.7 480.1L613.0 479.4M532.3 468.1L529.8 469.7M607.7 489.6L609.4 486.6M447.3 474.7L449.4 477.6M598.4 475.9L600.6 476.9M398.5 462.4L400.5 465.8M481.8 472.7L482.4 473.3M419.6 472.5L420.4 473.4M566.9 466.5L569.8 467.9M618.2 463.4L619.6 462.1M528.4 462.2L530.2 464.3M506.8 488.2L505.6 490.0M623.5 471.3L623.5 469.7M550.2 465.7L550.8 464.6M527.1 466.2L529.0 469.2M428.9 477.1L431.4 474.0M491.5 479.1L492.7 478.1M416.0 464.6L416.1 463.1M571.2 488.9L569.8 490.0M413.1 489.2L413.5 488.6M548.6 474.2L546.5 476.3M515.3 472.0L514.2 473.4M567.3 483.7L569.1 481.8M426.2 476.7L430.5 477.8M555.5 480.1L557.0 477.3M598.5 474.9L599.4 473.8M515.6 462.2L519.5 462.0M586.8 473.9L585.4 475.7M516.6 462.2L515.8 464.7M469.7 474.7L469.2 475.1M616.4 487.6L619.5 490.0M485.4 470.7L486.0 473.9M413.6 487.4L415.5 486.6M436.3 471.0L438.8 468.2M472.5 485.1L470.9 487.2M474.1 489.8L478.3 490.0M444.1 489.1L445.9 488.4M489.7 489.9L492.4 488.9M456.1 463.0L458.9 463.7M595.4 462.5L597.5 462.0M513.2 474.2L514.2 470.4M617.7 483.7L619.1 481.6M449.5 480.5L452.4 481.3M496.9 489.5L500.0 490.0M571.1 471.4L569.8 473.3M485.0 476.1L486.3 474.3M609.6 464.5L607.2 467.7M434.9 463.9L437.2 462.0M548.2 481.9L551.9 483.5M518.6 462.7L520.3 463.7M446.9 483.2L447.7 483.9M589.1 464.9L586.4 468.3M499.1 481.1L495.6 483.5M439.6 485.9L437.7 488.4M407.0 469.5L408.7 471.3M443.6 465.0L447.9 466.5M623.3 479.9L622.1 484.2M466.2 463.4L464.9 465.6M543.7 464.6L544.8 462.6M591.2 479.1L594.4 480.7M523.9 462.9L524.8 462.0M407.5 473.2L408.5 469.6M582.4 485.7L579.8 488.4M553.4 480.5L552.3 481.6M595.4 470.5L598.0 472.8M548.2 487.4L552.2 487.8M601.7 463.5L603.9 462.0M482.7 482.0L485.2 481.6M529.8 463.2L530.5 464.3M511.6 464.5L512.6 462.4M537.7 465.2L537.1 465.7M614.7 468.7L617.3 467.4M582.2 462.2L583.8 463.1M490.5 487.2L493.7 485.2M611.1 469.4L612.4 470.5M419.9 477.5L420.8 478.3M404.3 474.6L405.6 473.9M622.7 479.6L620.6 481.0M484.5 486.5L484.9 485.4M559.5 471.0L558.3 471.7M475.6 480.6L476.6 480.9M586.3 476.9L584.7 480.3M525.5 474.4L526.7 473.4M520.5 478.9L519.2 480.3M495.7 469.7L496.9 467.5M435.3 486.8L436.8 487.4M605.5 489.2L609.6 487.2M501.5 481.4L502.5 482.5M569.4 484.0L571.4 487.6M553.8 485.3L554.8 484.5M594.9 466.4L595.8 470.0M410.5 489.8L411.4 487.6M609.2 483.3L611.7 485.6M484.3 483.3L483.7 485.3M518.7 482.4L520.0 482.8M608.6 465.4L611.9 466.9M433.5 471.2L436.9 472.7M415.7 482.7L416.3 481.9M559.0 487.8L559.9 486.9M433.1 464.9L434.2 465.9M572.0 484.2L573.7 485.0M567.6 470.2L570.0 468.3M572.9 480.6L575.8 481.6M580.8 471.6L583.6 472.9M430.2 486.5L430.5 487.6M400.7 477.4L402.2 481.0M542.2 466.2L545.4 467.9M610.6 477.6L611.1 476.8M416.1 469.1L418.1 469.8M610.4 476.5L611.4 478.4M413.1 478.8L413.6 480.6M478.6 468.5L477.9 469.1M504.6 485.1L505.6 486.4M611.3 488.5L609.3 490.0M412.0 468.2L410.6 470.7M545.9 488.2L548.5 486.0M412.0 470.6L416.0 471.0M433.4 477.7L434.8 478.8M486.2 476.4L485.1 478.0M508.7 487.8L511.1 486.5M408.8 486.3L410.5 487.0M564.7 486.7L563.8 487.7M458.3 484.1L459.6 481.8M613.2 474.2L612.1 474.9M551.9 466.5L553.5 466.3M607.7 484.5L611.6 483.2M429.1 478.1L430.7 479.5M445.9 482.6L446.5 483.1M561.4 469.1L562.5 469.3M396.3 476.7L398.1 478.2M439.1 478.3L440.0 475.7M457.3 472.2L458.8 472.4M481.5 471.5L483.9 473.8M505.6 470.2L507.3 469.4" stroke="#141414" stroke-width="1.55" stroke-linecap="round" fill="none"/>
<path d="M391 417 H625 M391 423.5 H625" stroke="#2a2a2a" stroke-width="1.2"/>
<path d="M400 441 H620" stroke="#555" stroke-width="0.8"/>
<path d="M560 458 H625" stroke="#222" stroke-width="1.6"/>
<text x="420.5" y="382.5" class="plate" font-size="35" textLength="180.5" lengthAdjust="spacing">ESP32 C3</text>
<text x="410" y="461" class="plate" font-size="35" textLength="207" lengthAdjust="spacing">Super Mini</text>
<rect x="318" y="100" width="48.60000000000002" height="438" fill="#272727"/>
<path d="M319.0 96.5 L365.6 96.5 L370.6 101.5 L370.6 142.9 L365.6 147.9 L319.0 147.9 L314.0 142.9 L314.0 101.5 Z" fill="#383838" stroke="#4b4b4b" stroke-width="1.5" stroke-linejoin="round"/>
<rect x="322.0" y="103.5" width="40.6" height="37.4" rx="7" fill="#343434"/>
<path d="M319.0 152.8 L365.9 152.8 L370.9 157.8 L370.9 198.7 L365.9 203.7 L319.0 203.7 L314.0 198.7 L314.0 157.8 Z" fill="#383838" stroke="#4b4b4b" stroke-width="1.5" stroke-linejoin="round"/>
<rect x="322.0" y="159.8" width="40.9" height="36.9" rx="7" fill="#343434"/>
<path d="M319.0 210.0 L366.2 210.0 L371.2 215.0 L371.2 254.4 L366.2 259.4 L319.0 259.4 L314.0 254.4 L314.0 215.0 Z" fill="#383838" stroke="#4b4b4b" stroke-width="1.5" stroke-linejoin="round"/>
<rect x="322.0" y="217.0" width="41.2" height="35.4" rx="7" fill="#343434"/>
<path d="M319.0 267.8 L366.5 267.8 L371.5 272.8 L371.5 310.2 L366.5 315.2 L319.0 315.2 L314.0 310.2 L314.0 272.8 Z" fill="#383838" stroke="#4b4b4b" stroke-width="1.5" stroke-linejoin="round"/>
<rect x="322.0" y="274.8" width="41.5" height="33.4" rx="7" fill="#343434"/>
<path d="M319.0 325.1 L366.9 325.1 L371.9 330.1 L371.9 365.9 L366.9 370.9 L319.0 370.9 L314.0 365.9 L314.0 330.1 Z" fill="#383838" stroke="#4b4b4b" stroke-width="1.5" stroke-linejoin="round"/>
<rect x="322.0" y="332.1" width="41.9" height="31.8" rx="7" fill="#343434"/>
<path d="M319.0 381.1 L367.2 381.1 L372.2 386.1 L372.2 421.7 L367.2 426.7 L319.0 426.7 L314.0 421.7 L314.0 386.1 Z" fill="#383838" stroke="#4b4b4b" stroke-width="1.5" stroke-linejoin="round"/>
<rect x="322.0" y="388.1" width="42.2" height="31.6" rx="7" fill="#343434"/>
<path d="M319.0 437.0 L367.5 437.0 L372.5 442.0 L372.5 477.4 L367.5 482.4 L319.0 482.4 L314.0 477.4 L314.0 442.0 Z" fill="#383838" stroke="#4b4b4b" stroke-width="1.5" stroke-linejoin="round"/>
<rect x="322.0" y="444.0" width="42.5" height="31.4" rx="7" fill="#343434"/>
<path d="M319.0 492.8 L367.8 492.8 L372.8 497.8 L372.8 536.0 L367.8 541.0 L319.0 541.0 L314.0 536.0 L314.0 497.8 Z" fill="#383838" stroke="#4b4b4b" stroke-width="1.5" stroke-linejoin="round"/>
<rect x="322.0" y="499.8" width="42.8" height="34.2" rx="7" fill="#343434"/>
<path d="M320 541 L368.8 541" stroke="#727272" stroke-width="2"/>
<rect x="658" y="98" width="47" height="440.5" fill="#272727"/>
<path d="M659.0 94.5 L704.0 94.5 L709.0 99.5 L709.0 141.3 L704.0 146.3 L659.0 146.3 L654.0 141.3 L654.0 99.5 Z" fill="#383838" stroke="#4b4b4b" stroke-width="1.5" stroke-linejoin="round"/>
<rect x="662.0" y="101.5" width="39.0" height="37.8" rx="7" fill="#343434"/>
<path d="M659.2 150.6 L704.0 150.6 L709.0 155.6 L709.0 197.3 L704.0 202.3 L659.2 202.3 L654.2 197.3 L654.2 155.6 Z" fill="#383838" stroke="#4b4b4b" stroke-width="1.5" stroke-linejoin="round"/>
<rect x="662.2" y="157.6" width="38.8" height="37.8" rx="7" fill="#343434"/>
<path d="M659.3 207.1 L704.0 207.1 L709.0 212.1 L709.0 253.4 L704.0 258.4 L659.3 258.4 L654.3 253.4 L654.3 212.1 Z" fill="#383838" stroke="#4b4b4b" stroke-width="1.5" stroke-linejoin="round"/>
<rect x="662.3" y="214.1" width="38.7" height="37.3" rx="7" fill="#343434"/>
<path d="M659.5 263.7 L704.0 263.7 L709.0 268.7 L709.0 309.4 L704.0 314.4 L659.5 314.4 L654.5 309.4 L654.5 268.7 Z" fill="#383838" stroke="#4b4b4b" stroke-width="1.5" stroke-linejoin="round"/>
<rect x="662.5" y="270.7" width="38.5" height="36.8" rx="7" fill="#343434"/>
<path d="M659.7 320.2 L704.0 320.2 L709.0 325.2 L709.0 365.5 L704.0 370.5 L659.7 370.5 L654.7 365.5 L654.7 325.2 Z" fill="#383838" stroke="#4b4b4b" stroke-width="1.5" stroke-linejoin="round"/>
<rect x="662.7" y="327.2" width="38.3" height="36.3" rx="7" fill="#343434"/>
<path d="M659.9 376.3 L704.0 376.3 L709.0 381.3 L709.0 421.6 L704.0 426.6 L659.9 426.6 L654.9 421.6 L654.9 381.3 Z" fill="#383838" stroke="#4b4b4b" stroke-width="1.5" stroke-linejoin="round"/>
<rect x="662.9" y="383.3" width="38.1" height="36.3" rx="7" fill="#343434"/>
<path d="M660.0 432.4 L704.0 432.4 L709.0 437.4 L709.0 477.6 L704.0 482.6 L660.0 482.6 L655.0 477.6 L655.0 437.4 Z" fill="#383838" stroke="#4b4b4b" stroke-width="1.5" stroke-linejoin="round"/>
<rect x="663.0" y="439.4" width="38.0" height="36.3" rx="7" fill="#343434"/>
<path d="M660.2 488.4 L704.0 488.4 L709.0 493.4 L709.0 536.5 L704.0 541.5 L660.2 541.5 L655.2 536.5 L655.2 493.4 Z" fill="#383838" stroke="#4b4b4b" stroke-width="1.5" stroke-linejoin="round"/>
<rect x="663.2" y="495.4" width="37.8" height="39.1" rx="7" fill="#343434"/>
<path d="M660 541.5 L705 541.5" stroke="#727272" stroke-width="2"/>
<path d="M332.0 110.80000000000001 h12 q4 0 4 4 v12 h-18 v-12 q0 -4 2 -4 z" fill="#4e4e4e"/>
<rect x="327.4" y="122.60000000000001" width="15.2" height="14.6" rx="1" fill="#d4d4d4"/>
<rect x="329.4" y="124.60000000000001" width="11" height="10.6" fill="#fafafa"/>
<path d="M332.5 167.5 h12 q4 0 4 4 v12 h-18 v-12 q0 -4 2 -4 z" fill="#4e4e4e"/>
<rect x="327.9" y="179.3" width="15.2" height="14.6" rx="1" fill="#d4d4d4"/>
<rect x="329.9" y="181.3" width="11" height="10.6" fill="#fafafa"/>
<path d="M333 224.5 h12 q4 0 4 4 v12 h-18 v-12 q0 -4 2 -4 z" fill="#4e4e4e"/>
<rect x="328.4" y="236.3" width="15.2" height="14.6" rx="1" fill="#d4d4d4"/>
<rect x="330.4" y="238.3" width="11" height="10.6" fill="#fafafa"/>
<path d="M333.5 281.5 h12 q4 0 4 4 v12 h-18 v-12 q0 -4 2 -4 z" fill="#4e4e4e"/>
<rect x="328.9" y="293.3" width="15.2" height="14.6" rx="1" fill="#d4d4d4"/>
<rect x="330.9" y="295.3" width="11" height="10.6" fill="#fafafa"/>
<path d="M333.5 339 h12 q4 0 4 4 v12 h-18 v-12 q0 -4 2 -4 z" fill="#4e4e4e"/>
<rect x="328.9" y="350.8" width="15.2" height="14.6" rx="1" fill="#d4d4d4"/>
<rect x="330.9" y="352.8" width="11" height="10.6" fill="#fafafa"/>
<path d="M334 395 h12 q4 0 4 4 v12 h-18 v-12 q0 -4 2 -4 z" fill="#4e4e4e"/>
<rect x="329.4" y="406.8" width="15.2" height="14.6" rx="1" fill="#d4d4d4"/>
<rect x="331.4" y="408.8" width="11" height="10.6" fill="#fafafa"/>
<path d="M335 450 h12 q4 0 4 4 v12 h-18 v-12 q0 -4 2 -4 z" fill="#4e4e4e"/>
<rect x="330.4" y="461.8" width="15.2" height="14.6" rx="1" fill="#d4d4d4"/>
<rect x="332.4" y="463.8" width="11" height="10.6" fill="#fafafa"/>
<path d="M336.5 507 h12 q4 0 4 4 v12 h-18 v-12 q0 -4 2 -4 z" fill="#4e4e4e"/>
<rect x="331.9" y="518.8" width="15.2" height="14.6" rx="1" fill="#d4d4d4"/>
<rect x="333.9" y="520.8" width="11" height="10.6" fill="#fafafa"/>
<rect x="672" y="113.69999999999999" width="20" height="24" rx="4" fill="#262626"/>
<rect x="674.4" y="121.39999999999999" width="15.2" height="14.8" rx="1.5" fill="#d2d2d2"/>
<rect x="676.4" y="123.69999999999999" width="11.2" height="10.6" fill="#fafafa"/>
<rect x="672" y="170.6" width="20" height="24" rx="4" fill="#262626"/>
<rect x="674.4" y="178.29999999999998" width="15.2" height="14.8" rx="1.5" fill="#d2d2d2"/>
<rect x="676.4" y="180.6" width="11.2" height="10.6" fill="#fafafa"/>
<rect x="674" y="228" width="20" height="24" rx="4" fill="#262626"/>
<rect x="676.4" y="235.7" width="15.2" height="14.8" rx="1.5" fill="#d2d2d2"/>
<rect x="678.4" y="238" width="11.2" height="10.6" fill="#fafafa"/>
<rect x="672" y="282.5" width="20" height="24" rx="4" fill="#262626"/>
<rect x="674.4" y="290.2" width="15.2" height="14.8" rx="1.5" fill="#d2d2d2"/>
<rect x="676.4" y="292.5" width="11.2" height="10.6" fill="#fafafa"/>
<rect x="673" y="341" width="20" height="24" rx="4" fill="#262626"/>
<rect x="675.4" y="348.7" width="15.2" height="14.8" rx="1.5" fill="#d2d2d2"/>
<rect x="677.4" y="351" width="11.2" height="10.6" fill="#fafafa"/>
<rect x="673.5" y="394" width="20" height="24" rx="4" fill="#262626"/>
<rect x="675.9" y="401.7" width="15.2" height="14.8" rx="1.5" fill="#d2d2d2"/>
<rect x="677.9" y="404" width="11.2" height="10.6" fill="#fafafa"/>
<rect x="673" y="450.5" width="20" height="24" rx="4" fill="#262626"/>
<rect x="675.4" y="458.2" width="15.2" height="14.8" rx="1.5" fill="#d2d2d2"/>
<rect x="677.4" y="460.5" width="11.2" height="10.6" fill="#fafafa"/>
<rect x="674.4" y="506.29999999999995" width="20" height="24" rx="4" fill="#262626"/>
<rect x="676.8" y="514.0" width="15.2" height="14.8" rx="1.5" fill="#d2d2d2"/>
<rect x="678.8" y="516.3" width="11.2" height="10.6" fill="#fafafa"/>
<rect x="195.7" y="108" width="101.3" height="33.5" fill="#fb1e06"/>
<text x="245.7" y="135.4" text-anchor="middle" textLength="30.7" lengthAdjust="spacingAndGlyphs" class="lb">5V</text>
<rect x="195.7" y="164" width="101.3" height="33.5" fill="#000000"/>
<text x="246.1" y="191.4" text-anchor="middle" textLength="57.8" lengthAdjust="spacingAndGlyphs" class="lb">GND</text>
<rect x="195.7" y="220" width="101.3" height="33.5" fill="#fb1e06"/>
<text x="246.6" y="247.4" text-anchor="middle" textLength="55.6" lengthAdjust="spacingAndGlyphs" class="lb">3.3V</text>
<rect x="195.7" y="276" width="101.3" height="33.5" fill="#10a98a"/>
<text x="246.3" y="303.4" text-anchor="middle" textLength="81.4" lengthAdjust="spacingAndGlyphs" class="lb">GPIO4</text>
<rect x="195.7" y="332" width="101.3" height="33.5" fill="#10a98a"/>
<text x="246.6" y="359.4" text-anchor="middle" textLength="81.9" lengthAdjust="spacingAndGlyphs" class="lb">GPIO3</text>
<rect x="195.7" y="388" width="101.3" height="33.5" fill="#10a98a"/>
<text x="246.6" y="415.4" text-anchor="middle" textLength="81.9" lengthAdjust="spacingAndGlyphs" class="lb">GPIO2</text>
<rect x="195.7" y="444" width="101.3" height="33.5" fill="#10a98a"/>
<text x="244.8" y="471.4" text-anchor="middle" textLength="78.4" lengthAdjust="spacingAndGlyphs" class="lb">GPIO1</text>
<rect x="195.7" y="500" width="101.3" height="33.5" fill="#10a98a"/>
<text x="246.2" y="527.4" text-anchor="middle" textLength="87.5" lengthAdjust="spacingAndGlyphs" class="lb">GPIOO</text>
<rect x="126" y="276" width="62.2" height="33.5" fill="#ad500b"/>
<text x="157.0" y="303.4" text-anchor="middle" textLength="32.8" lengthAdjust="spacingAndGlyphs" class="lb">A4</text>
<rect x="126" y="332" width="62.2" height="33.5" fill="#ad500b"/>
<text x="157.2" y="359.4" text-anchor="middle" textLength="32.5" lengthAdjust="spacingAndGlyphs" class="lb">A3</text>
<rect x="126" y="388" width="62.2" height="33.5" fill="#ad500b"/>
<text x="157.2" y="415.4" text-anchor="middle" textLength="32.5" lengthAdjust="spacingAndGlyphs" class="lb">A2</text>
<rect x="126" y="444" width="62.2" height="33.5" fill="#ad500b"/>
<text x="156.2" y="471.4" text-anchor="middle" textLength="30.5" lengthAdjust="spacingAndGlyphs" class="lb">A1</text>
<rect x="126" y="500" width="62.2" height="33.5" fill="#ad500b"/>
<text x="157.2" y="527.4" text-anchor="middle" textLength="32.5" lengthAdjust="spacingAndGlyphs" class="lb">A0</text>
<rect x="17" y="276" width="101.2" height="33.5" fill="#a116d6"/>
<text x="68.5" y="303.4" text-anchor="middle" textLength="52.5" lengthAdjust="spacingAndGlyphs" class="lb">SCK</text>
<rect x="724" y="108" width="101.5" height="33.5" fill="#10a98a"/>
<text x="774.5" y="135.4" text-anchor="middle" textLength="82.0" lengthAdjust="spacingAndGlyphs" class="lb">GPIO5</text>
<rect x="724" y="164" width="101.5" height="33.5" fill="#10a98a"/>
<text x="774.5" y="191.4" text-anchor="middle" textLength="82.0" lengthAdjust="spacingAndGlyphs" class="lb">GPIO6</text>
<rect x="724" y="220" width="101.5" height="33.5" fill="#10a98a"/>
<text x="773.8" y="247.4" text-anchor="middle" textLength="80.5" lengthAdjust="spacingAndGlyphs" class="lb">GPIO7</text>
<rect x="724" y="276" width="101.5" height="33.5" fill="#10a98a"/>
<text x="774.5" y="303.4" text-anchor="middle" textLength="82.0" lengthAdjust="spacingAndGlyphs" class="lb">GPIO8</text>
<rect x="724" y="332" width="101.5" height="33.5" fill="#10a98a"/>
<text x="774.5" y="359.4" text-anchor="middle" textLength="82.0" lengthAdjust="spacingAndGlyphs" class="lb">GPIO9</text>
<rect x="724" y="388" width="101.5" height="33.5" fill="#10a98a"/>
<text x="775.8" y="415.4" text-anchor="middle" textLength="97.5" lengthAdjust="spacingAndGlyphs" class="lb">GPIO10</text>
<rect x="724" y="444" width="101.5" height="33.5" fill="#10a98a"/>
<text x="775.8" y="471.4" text-anchor="middle" textLength="97.5" lengthAdjust="spacingAndGlyphs" class="lb">GPIO20</text>
<rect x="724" y="500" width="101.5" height="33.5" fill="#10a98a"/>
<text x="775.0" y="527.4" text-anchor="middle" textLength="96.0" lengthAdjust="spacingAndGlyphs" class="lb">GPIO21</text>
<rect x="832.5" y="108" width="63.0" height="33.5" fill="#ad500b"/>
<text x="864.5" y="135.4" text-anchor="middle" textLength="33.0" lengthAdjust="spacingAndGlyphs" class="lb">A5</text>
<rect x="902.5" y="108" width="101.5" height="33.5" fill="#a116d6"/>
<text x="953.8" y="135.4" text-anchor="middle" textLength="68.5" lengthAdjust="spacingAndGlyphs" class="lb">MISO</text>
<rect x="902.5" y="164" width="101.5" height="33.5" fill="#a116d6"/>
<text x="953.8" y="191.4" text-anchor="middle" textLength="68.5" lengthAdjust="spacingAndGlyphs" class="lb">MOSI</text>
<rect x="902.5" y="220" width="101.5" height="33.5" fill="#a116d6"/>
<text x="954.0" y="247.4" text-anchor="middle" textLength="34.0" lengthAdjust="spacingAndGlyphs" class="lb">SS</text>
<rect x="902.5" y="276" width="101.5" height="33.5" fill="#0f6dd0"/>
<text x="954.0" y="303.4" text-anchor="middle" textLength="54.0" lengthAdjust="spacingAndGlyphs" class="lb">SDA</text>
<rect x="902.5" y="332" width="101.5" height="33.5" fill="#0f6dd0"/>
<text x="953.8" y="359.4" text-anchor="middle" textLength="48.5" lengthAdjust="spacingAndGlyphs" class="lb">SCL</text>
<rect x="902.5" y="444" width="101.5" height="33.5" fill="#d99d0c"/>
<text x="954.0" y="471.4" text-anchor="middle" textLength="34.0" lengthAdjust="spacingAndGlyphs" class="lb">RX</text>
<rect x="902.5" y="500" width="101.5" height="33.5" fill="#d99d0c"/>
<text x="953.8" y="527.4" text-anchor="middle" textLength="31.5" lengthAdjust="spacingAndGlyphs" class="lb">TX</text>
<rect x="17.5" y="635.5" width="989.5" height="274" fill="#ffffff" fill-opacity="0.12" stroke="#3a3a3a" stroke-width="1.2"/>
<rect x="58.5" y="696" width="49.5" height="49.5" fill="#fb1e06"/>
<text x="129.5" y="734.5" textLength="121.89999999999999" lengthAdjust="spacingAndGlyphs" class="lg">Power</text>
<rect x="317.5" y="696" width="49.5" height="49.5" fill="#000000"/>
<text x="388.4" y="734.5" textLength="84.00000000000001" lengthAdjust="spacingAndGlyphs" class="lg">GND</text>
<rect x="577" y="696" width="49.5" height="49.5" fill="#0f6dd0"/>
<text x="647.2" y="734.5" textLength="78.7" lengthAdjust="spacingAndGlyphs" class="lg">ADC</text>
<rect x="835.5" y="696" width="49.5" height="49.5" fill="#a116d6"/>
<text x="907.7" y="734.5" textLength="59.7" lengthAdjust="spacingAndGlyphs" class="lg">SPI</text>
<rect x="143" y="800.5" width="49.5" height="49.5" fill="#10a98a"/>
<text x="214.39999999999998" y="838.5" textLength="127.80000000000003" lengthAdjust="spacingAndGlyphs" class="lg">PIN No</text>
<rect x="402" y="800.5" width="49.5" height="49.5" fill="#ad500b"/>
<text x="472.4" y="838.5" textLength="123.50000000000001" lengthAdjust="spacingAndGlyphs" class="lg">Digital</text>
<rect x="661.5" y="800.5" width="49.5" height="49.5" fill="#d99d0c"/>
<text x="732.4000000000001" y="838.5" textLength="103.49999999999996" lengthAdjust="spacingAndGlyphs" class="lg">UART</text>
<path d="M0 930 C 25 934 45 944 60 952 S 85 962 100 968 L100 1009 L0 1009 Z" fill="#fbc3c0"/>
<path d="M150 984 C 200 968 250 952 300 951 C 340 951 365 962 395 978 L 395 1009 L 150 1009 Z" fill="#fde3e1"/>
<path d="M560 982 C 600 972 650 962 687 961.5 C 720 961.5 750 970 780 982 L 780 1009 L 560 1009 Z" fill="#fbc1be"/>
<path d="M975 956 C 990 945 1005 936 1024 930 L1024 1009 L975 1009 Z" fill="#fbc3c0"/>
<path d="M0 966.5 C 20 964.5 40 963.5 55 964 C 95 965 130 974 165 984 C 200 993 235 999 265 999 C 310 999 350 987 400 973 C 440 964.5 480 964 512 967 C 545 971 575 983 605 995 C 625 1001.5 645 1002 665 1000 C 720 994 780 978 837 967.5 C 880 959.5 920 954.5 962 954 C 990 954 1010 955.5 1024 957.5 L1024 1009 L0 1009 Z" fill="#f5504e"/>
</svg></body></html>
